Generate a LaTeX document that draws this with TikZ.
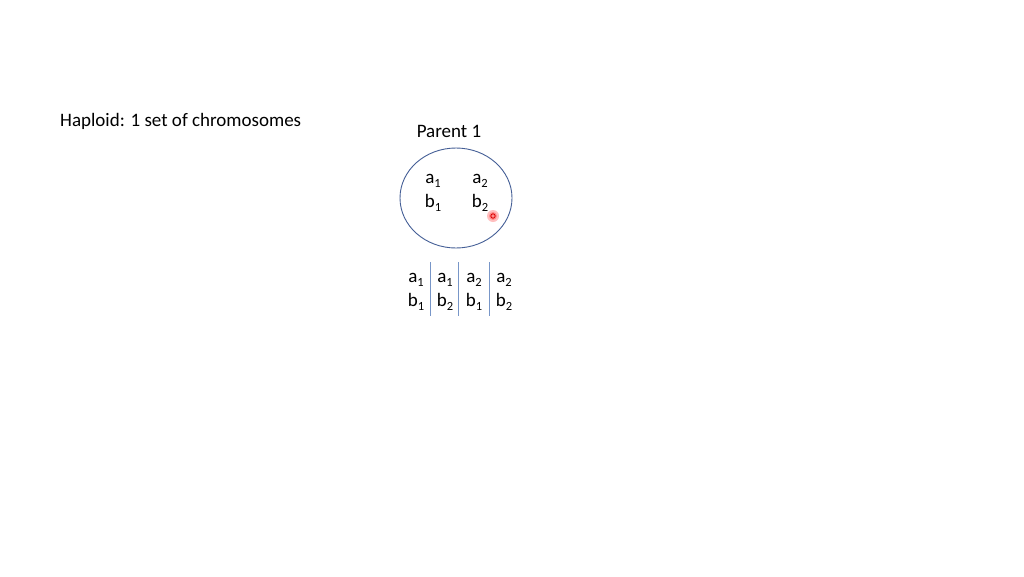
\documentclass[tikz,border=0pt]{standalone}
\usepackage{fontspec}
\setmainfont{Carlito}
\definecolor{ringblue}{RGB}{68,94,150}
\definecolor{seplblue}{RGB}{120,150,200}
\newcommand{\sbs}[1]{\raisebox{-0.45ex}{\fontsize{12.5}{12.5}\selectfont #1}}
\begin{document}
\begin{tikzpicture}[x=1pt,y=-1pt,
  txt/.style={inner sep=0pt,font=\fontsize{19}{24}\selectfont,text=black},
  pair/.style={txt,align=center},
  sepline/.style={draw=seplblue,line width=0.8pt}]
\useasboundingbox[fill=white] (0,0) rectangle (1024,576);
\node[txt,anchor=base west] (title) at (60,126) {Haploid: 1 set of chromosomes};
\node[txt,anchor=base] (parent) at (449,137) {Parent 1};
\draw[ringblue,line width=0.9pt] (456,198) ellipse [x radius=56, y radius=50];
\node[pair] (p1) at (433,193) {a\sbs{1}\\b\sbs{1}};
\node[pair] (p2) at (480,193) {a\sbs{2}\\b\sbs{2}};
\node[pair] (g1) at (416,292) {a\sbs{1}\\b\sbs{1}};
\node[pair] (g2) at (445,292) {a\sbs{1}\\b\sbs{2}};
\node[pair] (g3) at (474,292) {a\sbs{2}\\b\sbs{1}};
\node[pair] (g4) at (504,292) {a\sbs{2}\\b\sbs{2}};
\draw[sepline] (430,262) -- (430,316);
\draw[sepline] (458,262) -- (458,316);
\draw[sepline] (489,262) -- (489,316);
\fill[red!25] (493,216) circle (6);
\fill[red!45] (493,216) circle (4);
\draw[red!85!black,line width=0.8pt] (493,216) circle (2.2);
\end{tikzpicture}
\end{document}
